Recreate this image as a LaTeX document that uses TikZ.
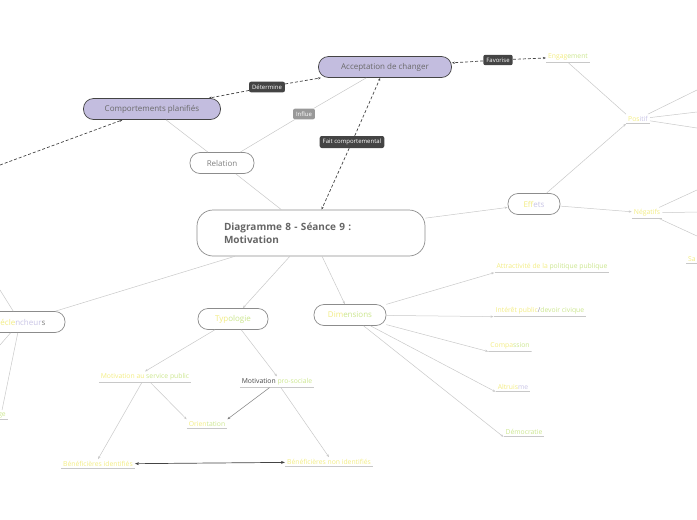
\documentclass[tikz,border=0pt]{standalone}
\usepackage{fontspec}
\setmainfont{Open Sans}
\usetikzlibrary{arrows.meta}
\definecolor{yl}{HTML}{F2EC82}
\definecolor{gr}{HTML}{CBE68E}
\definecolor{lv}{HTML}{C9C5E6}
\definecolor{box}{HTML}{C3BDDF}
\definecolor{dk}{HTML}{444444}
\definecolor{ln}{HTML}{C8C8C8}
\begin{document}
\begin{tikzpicture}[x=1pt,y=-1pt,
 topic/.style={draw=gray!90,rounded corners=10pt,minimum height=21pt,font=\fontsize{8}{9}\selectfont,text=gray,fill=white,line width=0.7pt},
 purple/.style={draw=dk,rounded corners=10pt,minimum height=21pt,fill=box,font=\fontsize{8}{9}\selectfont,text=dk!80,line width=0.7pt},
 lab/.style={fill=dk,text=white,rounded corners=2pt,font=\fontsize{6}{7}\selectfont,inner sep=3pt},
 leaf/.style={font=\fontsize{6.8}{7.8}\selectfont,inner sep=2pt,path picture={\draw[ln,line width=0.8pt] (path picture bounding box.south west)--(path picture bounding box.south east);}},
 conn/.style={ln,line width=0.5pt},
 dsh/.style={dk,densely dashed,line width=0.7pt},
 tip/.style={-{Stealth[length=3pt]}}]
\useasboundingbox (0,0) rectangle (697,520);
% nodes
\node[purple,minimum width=133pt] (acc) at (385,67) {Acceptation de changer};
\node[purple,minimum width=137pt] (comp) at (152,109) {Comportements planifiés};
\node[topic,minimum width=64pt] (rel) at (222,163) {Relation};
\node[topic,minimum width=228pt,minimum height=46pt,rounded corners=16pt,text width=174pt,align=left,font=\bfseries\fontsize{10}{13}\selectfont,text=gray!80!black] (main) at (311,233) {Diagramme 8 - Séance 9 :\\Motivation};
\node[topic,minimum width=52pt] (eff) at (534,204) {\textcolor{yl}{Eff}\textcolor{lv}{ets}};
\node[topic,minimum width=72pt] (dim) at (350,315) {\textcolor{yl}{Dim}\textcolor{gr}{ensions}};
\node[topic,minimum width=70pt] (typ) at (233,319) {\textcolor{yl}{Typ}\textcolor{gr}{ologie}};
\node[topic,minimum width=90pt] (dec) at (20,322) {\textcolor{yl}{Décle}\textcolor{lv}{ncheur}s};
\node[lab] (det) at (267,87) {Détermine};
\node[lab,fill=gray!80] (inf) at (304,114) {Influe};
\node[lab] (fait) at (352,142) {Fait comportemental};
\node[lab] (fav) at (498,60) {Favorise};
\node[leaf] (eng) at (568,57) {\textcolor{yl}{Engag}\textcolor{gr}{ement}};
\node[leaf] (pos) at (638,119) {\textcolor{yl}{Pos}\textcolor{lv}{itif}};
\node[leaf] (neg) at (647,213) {\textcolor{yl}{Négatifs}};
\node[leaf,anchor=west] (sa) at (686,259) {\textcolor{yl}{Sa}};
\node[leaf] (att) at (552,267) {\textcolor{yl}{Attractivité de la} \textcolor{gr}{politique publique}};
\node[leaf] (int) at (540,311) {\textcolor{yl}{Intérêt public}\textcolor{lv!70!black}{/}\textcolor{gr}{devoir civique}};
\node[leaf] (cps) at (510,346) {\textcolor{yl}{Compa}\textcolor{gr}{ssion}};
\node[leaf] (alt) at (513,387) {\textcolor{yl}{Altruis}\textcolor{lv}{me}};
\node[leaf] (dem) at (524,432) {\textcolor{gr}{Démocratie}};
\node[leaf] (msp) at (145,377) {\textcolor{yl}{Motivation au} \textcolor{gr}{service public}};
\node[leaf] (mps) at (277,382) {\textcolor{dk}{Motivation} \textcolor{gr}{pro-sociale}};
\node[leaf] (ori) at (207,424) {\textcolor{yl}{Orien}\textcolor{gr}{tation}};
\node[leaf] (bi) at (98,464) {\textcolor{yl}{Bénéficières identifiés}};
\node[leaf] (bni) at (329,462) {\textcolor{yl}{Bénéficières non identifiés}};
\node[leaf,anchor=east] (ge) at (8,415) {\textcolor{gr}{ge}};
\coordinate (L1) at (0,165);
\coordinate (P1) at (697,90); \coordinate (P2) at (697,112); \coordinate (P3) at (697,128);
\coordinate (N1) at (697,190); \coordinate (N2) at (697,212); \coordinate (N3) at (697,236);
\coordinate (D1) at (0,290); \coordinate (D2) at (0,345);
% connectors
\draw[conn] (main) -- (rel);
\draw[conn] (rel) -- (comp);
\draw[conn] (rel) -- (inf) -- (acc);
\draw[conn,tip] (main) -- (eff);
\draw[conn,tip] (eff) -- (pos.south west);
\draw[conn,tip] (eff) -- (neg);
\draw[conn] (pos.north west) -- (eng.south);
\draw[conn] (pos) -- (P1); \draw[conn] (pos) -- (P2); \draw[conn] (pos) -- (P3);
\draw[conn] (neg) -- (N1); \draw[conn] (neg) -- (N2); \draw[conn] (neg) -- (N3);
\draw[conn] (main) -- (dec);
\draw[conn] (dec) -- (D1); \draw[conn] (dec) -- (D2); \draw[conn] (dec) -- (ge.north);
\draw[conn,tip] (main) -- (typ);
\draw[conn,tip] (main) -- (dim);
\foreach \t in {att,int,cps,alt,dem} \draw[conn,tip] (dim) -- (\t.south west);
\draw[conn,tip] (typ) -- (msp.north);
\draw[conn,tip] (typ) -- (mps.north);
\draw[conn,tip] (msp) -- (ori.north west);
\draw[conn,tip] (msp) -- (bi.north);
\draw[dk!70,line width=0.5pt,tip] (mps) -- (ori.north east);
\draw[conn,tip] (mps) -- (bni.north);
\draw[dk,line width=0.7pt,{Stealth[length=4pt]}-{Stealth[length=4pt]}] (bi) -- (bni);
\draw[dsh,tip] (det) -- (acc);
\draw[dsh,tip] (det) -- (comp);
\draw[dsh,tip] (fav) -- (acc);
\draw[dsh,tip] (fav) -- (eng);
\draw[dsh,tip] (fait) -- (acc);
\draw[dsh,tip] (fait) -- (main);
\draw[dsh,tip] (L1) -- (comp);
\end{tikzpicture}
\end{document}
